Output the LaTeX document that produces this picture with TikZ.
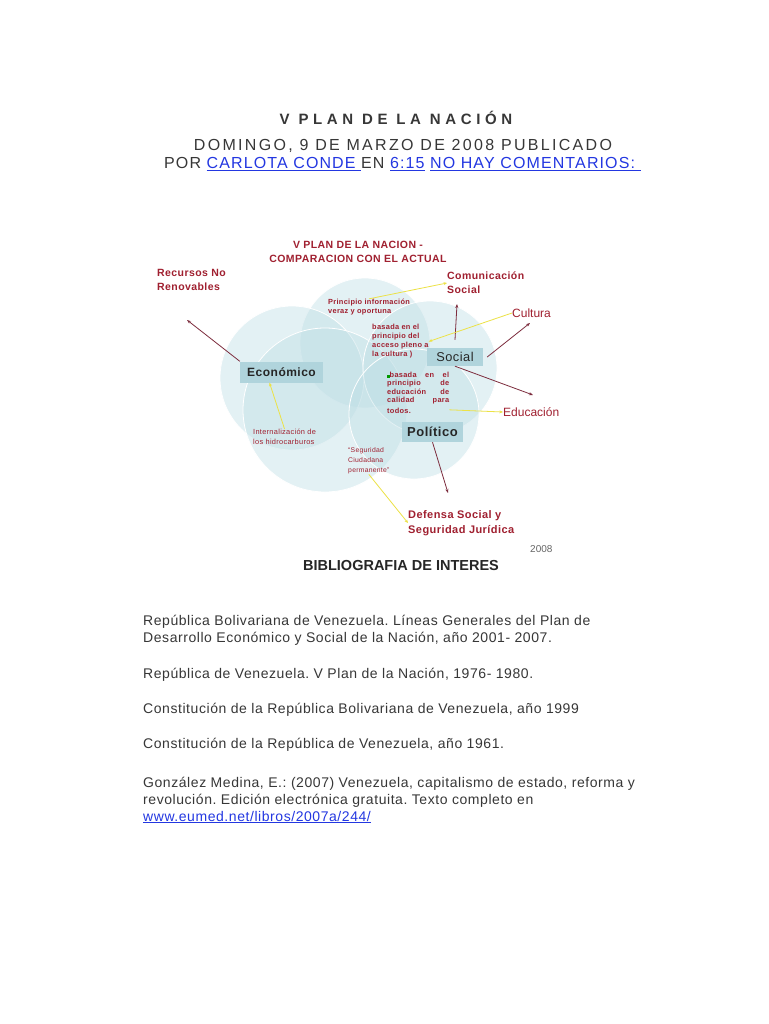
\documentclass[tikz,border=0pt]{standalone}
\usepackage{fontspec}
\setmainfont{Liberation Sans}
\newfontfamily\ttlfont{Liberation Sans}[LetterSpace=31]
\newfontfamily\hdonefont{Liberation Sans}[LetterSpace=14.5]
\newfontfamily\hdtwofont{Liberation Sans}[LetterSpace=7]
\newfontfamily\bibfont{Liberation Sans}[LetterSpace=4]
\newfontfamily\dgfont{Liberation Sans}[LetterSpace=4]
\usetikzlibrary{arrows.meta}
\definecolor{dred}{RGB}{160,32,48}
\definecolor{boxc}{RGB}{176,212,220}
\definecolor{circc}{RGB}{190,222,229}
\definecolor{arrc}{RGB}{125,45,62}
\definecolor{yelc}{RGB}{236,226,70}
\definecolor{txtc}{RGB}{55,55,55}
\definecolor{linkc}{RGB}{35,55,225}
\newcommand{\mysz}[2]{\fontsize{#1}{#2}\selectfont}
\tikzset{
  txt/.style={inner sep=0pt, anchor=west, align=left},
  redtxt/.style={txt, text=dred, font=\dgfont\bfseries\mysz{7.4}{9}},
  bigred/.style={txt, text=dred, font=\dgfont\bfseries\mysz{10.5}{14}},
  plainred/.style={txt, text=dred, font=\mysz{12}{14}},
  catbox/.style={fill=boxc, inner xsep=5pt, inner ysep=4pt, text=black!85},
  redarr/.style={draw=arrc, line width=0.8pt, -{Stealth[length=4pt,width=3pt]}},
  yelarr/.style={draw=yelc, line width=0.8pt, -{Stealth[length=3.5pt,width=3pt]}},
  circ/.style={fill=circc, fill opacity=0.42, draw=white, line width=0.8pt},
  bib/.style={txt, text=txtc, font=\bibfont\mysz{14}{17}, align=left}
}
\frenchspacing
\begin{document}
\begin{tikzpicture}[x=1pt,y=-1pt]
\useasboundingbox[fill=white] (0,0) rectangle (768,1024);

% header
\node[inner sep=0pt, text=txtc, font=\ttlfont\bfseries\mysz{15}{18}] (title) at (396,118) {V PLAN DE LA NACIÓN};
\node[inner sep=0pt, text=txtc, font=\hdonefont\mysz{16}{18}] (date) at (403,146) {DOMINGO, 9 DE MARZO DE 2008 PUBLICADO};
\node[txt, text=txtc, font=\hdtwofont\mysz{16}{18}] (por) at (164,164) {POR \textcolor{linkc}{\underline{CARLOTA CONDE }}EN \textcolor{linkc}{\underline{6:15}} \textcolor{linkc}{\underline{NO HAY COMENTARIOS: }}};

% cloud of circles
\fill[circ] (365,343) circle (65);
\fill[circ] (292,378) circle (72);
\fill[circ] (325,410) circle (82);
\fill[circ] (430,368) circle (67);
\fill[circ] (414,414) circle (65);

% diagram title
\node[inner sep=0pt, text=dred, font=\dgfont\bfseries\mysz{10.5}{14}, align=center] (dtitle) at (358,252) {V PLAN DE LA NACION -\\COMPARACION CON EL ACTUAL};

% category boxes
\node[catbox, font=\dgfont\bfseries\mysz{12}{14}, minimum width=83pt, minimum height=21pt] (eco) at (281.5,372) {Económico};
\node[catbox, font=\dgfont\mysz{12.8}{14}, minimum width=56pt, minimum height=18pt] (soc) at (455,357) {Social};
\node[catbox, font=\dgfont\bfseries\mysz{13}{14}, minimum width=61pt, minimum height=20pt] (pol) at (432.5,432) {Político};

% labels
\node[bigred] (rec) at (157,280) {Recursos No\\Renovables};
\node[bigred] (com) at (447,283) {Comunicación\\Social};
\node[plainred] (cul) at (512,313) {Cultura};
\node[plainred] (edu) at (503,412) {Educación};
\node[bigred, font=\dgfont\bfseries\mysz{11}{15}] (def) at (408,523) {Defensa Social y\\Seguridad Jurídica};
\node[txt, text=black!60, font=\mysz{10}{12}] (year) at (530,549) {2008};

\node[redtxt] (princ) at (328,307) {Principio información\\veraz y oportuna};
\node[redtxt] (basada) at (372,341.5) {basada en el\\principio del\\acceso pleno a\\la cultura )};
\node[redtxt, font=\dgfont\bfseries\mysz{7.4}{8.2}] (just) at (387,393) {%
\makebox[62pt][s]{\textcolor{green!60!black}{\rule{2.5pt}{2.5pt}}basada en el}\\
\makebox[62pt][s]{principio de}\\
\makebox[62pt][s]{educación de}\\
\makebox[62pt][s]{calidad para}\\[3pt]
todos.};
\node[redtxt, font=\dgfont\mysz{7.4}{10}] (int) at (253,437) {Internalización de\\los hidrocarburos};
\node[redtxt, font=\dgfont\mysz{6.8}{10}] (seg) at (348,461) {“Seguridad\\Ciudadana\\permanente”};

% free ends
\coordinate (recEnd) at (187,320);
\coordinate (comEnd) at (457,304);
\coordinate (culEnd) at (530,323);
\coordinate (eduEnd) at (533,395);
\coordinate (defEnd) at (448,493);

% red arrows
\draw[redarr] (eco.north west) -- (recEnd);
\draw[redarr] ([yshift=8pt]soc.north) -- (comEnd);
\draw[redarr] ([xshift=4pt]soc.east) -- (culEnd);
\draw[redarr] (soc.south) -- (eduEnd);
\draw[redarr] (pol.south) -- (defEnd);

% yellow arrows
\draw[yelarr] (princ.north) -- (com.west);
\draw[yelarr] (cul.west) -- (basada.east);
\draw[yelarr] ([yshift=4pt]just.south east) -- (edu.west);
\draw[yelarr] (seg.south) -- (def.west);
\draw[yelarr] (int.north) -- ([xshift=-12pt]eco.south);

% bibliography
\node[inner sep=0pt, text=black!85, font=\bfseries\mysz{14.5}{17}] (bibt) at (401,566) {BIBLIOGRAFIA DE INTERES};
\node[bib] (b1) at (143,630.5) {República Bolivariana de Venezuela. Líneas Generales del Plan de\\Desarrollo Económico y Social de la Nación, año 2001- 2007.};
\node[bib] (b2) at (143,675) {República de Venezuela. V Plan de la Nación, 1976- 1980.};
\node[bib] (b3) at (143,710) {Constitución de la República Bolivariana de Venezuela, año 1999};
\node[bib] (b4) at (143,745) {Constitución de la República de Venezuela, año 1961.};
\node[bib] (b5) at (143,800) {González Medina, E.: (2007) Venezuela, capitalismo de estado, reforma y\\revolución. Edición electrónica gratuita. Texto completo en\\\textcolor{linkc}{\underline{www.eumed.net/libros/2007a/244/}}};
\end{tikzpicture}
\end{document}
